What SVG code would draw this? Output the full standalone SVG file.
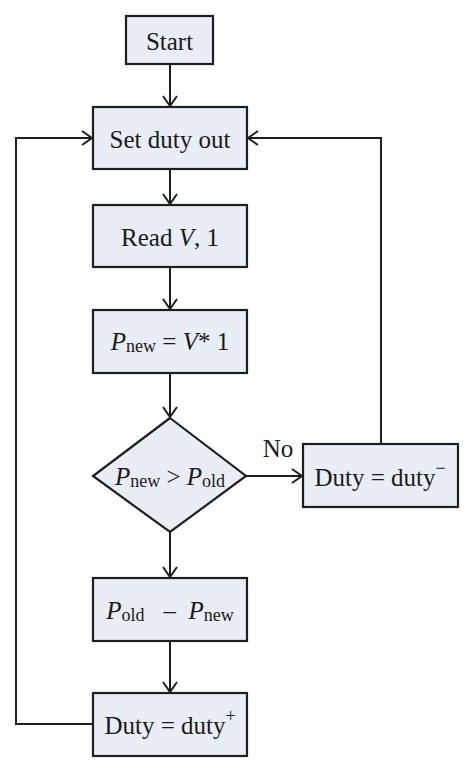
<svg xmlns="http://www.w3.org/2000/svg" width="474" height="775" viewBox="0 0 474 775">
<style>
.box{fill:#e8edf6;stroke:#1e1e1e;stroke-width:2.2}
.lbl{font-family:"Liberation Serif","Times New Roman",serif;font-size:25px;fill:#1a1a1a;text-anchor:middle;dominant-baseline:central}
.it{font-style:italic}
.sub{font-size:18px}
.con{fill:none;stroke:#1e1e1e;stroke-width:2}
</style>
<defs>
<marker id="arr" viewBox="0 0 12 16" refX="11" refY="8" markerWidth="12" markerHeight="16" markerUnits="userSpaceOnUse" orient="auto">
<polyline points="1,1 11,8 1,15" fill="none" stroke="#1e1e1e" stroke-width="2"/>
</marker>
</defs>
<rect width="474" height="775" fill="#ffffff"/>
<g id="connectors">
<line class="con" x1="170" y1="64" x2="170" y2="106" marker-end="url(#arr)"/>
<line class="con" x1="170" y1="169" x2="170" y2="204" marker-end="url(#arr)"/>
<line class="con" x1="170" y1="267" x2="170" y2="309" marker-end="url(#arr)"/>
<line class="con" x1="170" y1="373" x2="170" y2="417" marker-end="url(#arr)"/>
<line class="con" x1="246" y1="476" x2="302" y2="476" marker-end="url(#arr)"/>
<polyline class="con" points="381,444 381,138 248,138" marker-end="url(#arr)"/>
<line class="con" x1="170" y1="532" x2="170" y2="577" marker-end="url(#arr)"/>
<line class="con" x1="170" y1="641" x2="170" y2="692" marker-end="url(#arr)"/>
<polyline class="con" points="93,724 16,724 16,138 92,138" marker-end="url(#arr)"/>
<text class="lbl" x="278" y="448">No</text>
</g>
<g id="start">
<rect class="box" x="126" y="16" width="87" height="48"/>
<text class="lbl" x="169.5" y="41">Start</text>
</g>
<g id="set-duty">
<rect class="box" x="93" y="107" width="154" height="62"/>
<text class="lbl" x="170" y="139">Set duty out</text>
</g>
<g id="read">
<rect class="box" x="93" y="205" width="154" height="62"/>
<text class="lbl" x="170" y="237">Read <tspan class="it">V</tspan>, 1</text>
</g>
<g id="pnew">
<rect class="box" x="93" y="310" width="154" height="63"/>
<text class="lbl" x="170" y="341"><tspan class="it">P</tspan><tspan class="sub" dy="5">new</tspan><tspan dy="-5"> = </tspan><tspan class="it">V</tspan>* 1</text>
</g>
<g id="decision">
<polygon class="box" points="170,418 246,476 170,532 93,476"/>
<text class="lbl" x="170" y="476"><tspan class="it">P</tspan><tspan class="sub" dy="5">new</tspan><tspan dy="-5"> &gt; </tspan><tspan class="it">P</tspan><tspan class="sub" dy="5">old</tspan></text>
</g>
<g id="duty-minus">
<rect class="box" x="303" y="444" width="155" height="63"/>
<text class="lbl" x="380" y="477">Duty = duty<tspan class="sub" dy="-9">−</tspan></text>
</g>
<g id="pold">
<rect class="box" x="93" y="578" width="154" height="63"/>
<text class="lbl" x="170" y="610"><tspan class="it">P</tspan><tspan class="sub" dy="5">old</tspan><tspan dy="-5">&#160;&#160;&#160;–&#160;&#160;</tspan><tspan class="it">P</tspan><tspan class="sub" dy="5">new</tspan></text>
</g>
<g id="duty-plus">
<rect class="box" x="93" y="693" width="154" height="63"/>
<text class="lbl" x="170" y="725">Duty = duty<tspan class="sub" dy="-9">+</tspan></text>
</g>
</svg>
